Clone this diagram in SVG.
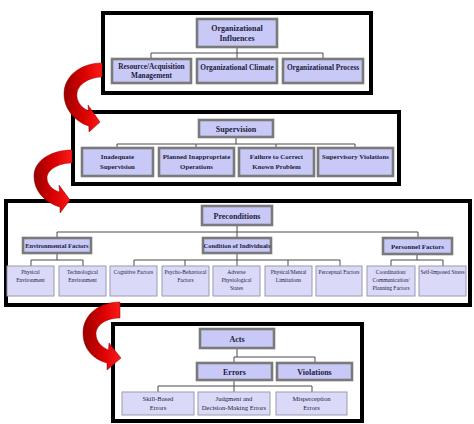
<svg xmlns="http://www.w3.org/2000/svg" width="474" height="424" viewBox="0 0 474 424">
<defs>
<style>
.frame{fill:#fff;stroke:#000;stroke-width:4}
.main{fill:#c9c9f7;stroke:#7a7a7a;stroke-width:2.6}
.leaf{fill:#dadaf8;stroke:#9a9ab4;stroke-width:1}
.conn{fill:none;stroke:#4a4a4a;stroke-width:1}
.tb{font-family:"Liberation Serif","Times New Roman",serif;font-weight:bold;fill:#1c1c3a;text-anchor:middle;font-size:7.3px}
.big{font-size:8px}
.sm{font-size:6.9px}
.xs{font-size:6.4px}
.tn{font-family:"Liberation Serif","Times New Roman",serif;fill:#1c1c3a;text-anchor:middle;font-size:5.5px}
.ta{font-family:"Liberation Serif","Times New Roman",serif;fill:#1c1c3a;text-anchor:middle;font-size:6.6px}
.arrow{fill:url(#rg);stroke:#900000;stroke-width:0.5}
</style>
<linearGradient id="rg" x1="0" y1="0" x2="1" y2="0">
<stop offset="0" stop-color="#9a0000"/>
<stop offset="0.5" stop-color="#d80000"/>
<stop offset="1" stop-color="#ff1a1a"/>
</linearGradient>
</defs>
<rect width="474" height="424" fill="#fff"/>

<!-- frames -->
<rect class="frame" x="103" y="13" width="268" height="80"/>
<rect class="frame" x="73" y="112" width="326" height="72"/>
<rect class="frame" x="6" y="201" width="464" height="104"/>
<rect class="frame" x="113" y="324" width="249" height="97"/>

<g id="connectors">
<path class="conn" d="M237,47V53M151,53H323M151,53V59M237,53V59M323,53V59"/>
<path class="conn" d="M236,137V144M117,144H355M117,144V148M196,144V148M276,144V148M355,144V148"/>
<path class="conn" d="M237,225V238M57,232H418M57,232V238M418,232V238"/>
<path class="conn" d="M57,253V260M31,260H83M31,260V266M83,260V266"/>
<path class="conn" d="M237,253V266M134,260H340M134,260V266M185,260V266M288,260V266M340,260V266"/>
<path class="conn" d="M417,254V260M391,260H443M391,260V266M443,260V266"/>
<path class="conn" d="M237,348V357M234,357H315M234,357V363M315,357V363"/>
<path class="conn" d="M234,380V392M158,386H312M158,386V392M312,386V392"/>
</g>

<g id="arrows">
<path class="arrow" d="M102,63C82,63 64,75 64,94C64,110 76,122 88.8,126L89,132L100,122L88,105L88.5,111C80,107 76,100 77,93C78,84 90,77 102,77Z"/>
<path class="arrow" d="M72,150C52,150 34,160 34,176C34,192 46,203 60,207L60,213L70,200L59,185L59.5,192C52,190 47,184 47,178C47,170 58,163 72,163Z"/>
<path class="arrow" d="M120,302C100,302 83,314 83,333C83,350 95,360 107,363L107,370L121,358L109,343L108.5,350C101,347 96,341 96,334C96,325 106,318 120,318Z"/>
</g>

<g id="org-influences"><rect class="main" x="197" y="19" width="80" height="28"/><text class="tb big" x="237" y="31">Organizational</text><text class="tb big" x="237" y="41">Influences</text></g>
<g id="resource"><rect class="main" x="112" y="59" width="79" height="24"/><text class="tb" x="151.5" y="69">Resource/Acquisition</text><text class="tb" x="151.5" y="78">Management</text></g>
<g id="org-climate"><rect class="main" x="197" y="59" width="80" height="24"/><text class="tb" x="237" y="70">Organizational Climate</text></g>
<g id="org-process"><rect class="main" x="283" y="59" width="80" height="24"/><text class="tb" x="323" y="70">Organizational Process</text></g>

<g id="supervision"><rect class="main" x="199" y="120" width="74" height="17"/><text class="tb big" x="236" y="131.5">Supervision</text></g>
<g id="inadequate"><rect class="main" x="82" y="148" width="71" height="28"/><text class="tb sm" x="117.5" y="159">Inadequate</text><text class="tb sm" x="117.5" y="168.5">Supervision</text></g>
<g id="planned"><rect class="main" x="159" y="148" width="75" height="28"/><text class="tb sm" x="196.5" y="159">Planned Inappropriate</text><text class="tb sm" x="196.5" y="168.5">Operations</text></g>
<g id="failure"><rect class="main" x="239" y="148" width="75" height="28"/><text class="tb sm" x="276.5" y="159">Failure to Correct</text><text class="tb sm" x="276.5" y="168.5">Known Problem</text></g>
<g id="sup-violations"><rect class="main" x="318" y="148" width="75" height="28"/><text class="tb sm" x="355.5" y="159">Supervisory Violations</text></g>

<g id="preconditions"><rect class="main" x="202" y="206" width="70" height="19"/><text class="tb big" x="237" y="218.5">Preconditions</text></g>
<g id="environmental"><rect class="main" x="23" y="238" width="68" height="15"/><text class="tb xs" x="57" y="248">Environmental Factors</text></g>
<g id="condition"><rect class="main" x="203" y="238" width="68" height="15"/><text class="tb xs" x="237" y="248">Condition of Individuals</text></g>
<g id="personnel"><rect class="main" x="383" y="238" width="69" height="16"/><text class="tb sm" x="417.5" y="248.5">Personnel Factors</text></g>

<g id="physical-env"><rect class="leaf" x="7" y="266" width="47" height="30"/><text class="tn" x="30.5" y="274">Physical</text><text class="tn" x="30.5" y="282">Environment</text></g>
<g id="technological"><rect class="leaf" x="59" y="266" width="47" height="30"/><text class="tn" x="82.5" y="274">Technological</text><text class="tn" x="82.5" y="282">Environment</text></g>
<g id="cognitive"><rect class="leaf" x="110" y="266" width="47" height="30"/><text class="tn" x="133.5" y="274">Cognitive Factors</text></g>
<g id="psycho"><rect class="leaf" x="162" y="266" width="47" height="30"/><text class="tn" x="185.5" y="274">Psycho-Behavioral</text><text class="tn" x="185.5" y="282">Factors</text></g>
<g id="adverse"><rect class="leaf" x="213" y="266" width="47" height="30"/><text class="tn" x="236.5" y="274">Adverse</text><text class="tn" x="236.5" y="282">Physiological</text><text class="tn" x="236.5" y="290">States</text></g>
<g id="physical-mental"><rect class="leaf" x="265" y="266" width="47" height="30"/><text class="tn" x="288.5" y="274">Physical/Mental</text><text class="tn" x="288.5" y="282">Limitations</text></g>
<g id="perceptual"><rect class="leaf" x="316" y="266" width="46" height="30"/><text class="tn" x="339" y="274">Perceptual Factors</text></g>
<g id="coordination"><rect class="leaf" x="367" y="266" width="48" height="30"/><text class="tn" x="391" y="274">Coordination/</text><text class="tn" x="391" y="282">Communication/</text><text class="tn" x="391" y="290">Planning Factors</text></g>
<g id="self-imposed"><rect class="leaf" x="419" y="266" width="47" height="30"/><text class="tn" x="442.5" y="274">Self-Imposed Stress</text></g>

<g id="acts"><rect class="main" x="200" y="329" width="74" height="19"/><text class="tb big" x="237" y="341.5">Acts</text></g>
<g id="errors"><rect class="main" x="197" y="363" width="75" height="17"/><text class="tb big" x="234.5" y="374.5">Errors</text></g>
<g id="violations"><rect class="main" x="277" y="363" width="75" height="17"/><text class="tb big" x="314.5" y="374.5">Violations</text></g>
<g id="skill"><rect class="leaf" x="122" y="392" width="72" height="23"/><text class="ta" x="158" y="400.5">Skill-Based</text><text class="ta" x="158" y="409.5">Errors</text></g>
<g id="judgment"><rect class="leaf" x="198" y="392" width="72" height="23"/><text class="ta" x="234" y="400.5">Judgment and</text><text class="ta" x="234" y="409.5">Decision-Making Errors</text></g>
<g id="misperception"><rect class="leaf" x="276" y="392" width="71" height="23"/><text class="ta" x="311.5" y="400.5">Misperception</text><text class="ta" x="311.5" y="409.5">Errors</text></g>
</svg>
